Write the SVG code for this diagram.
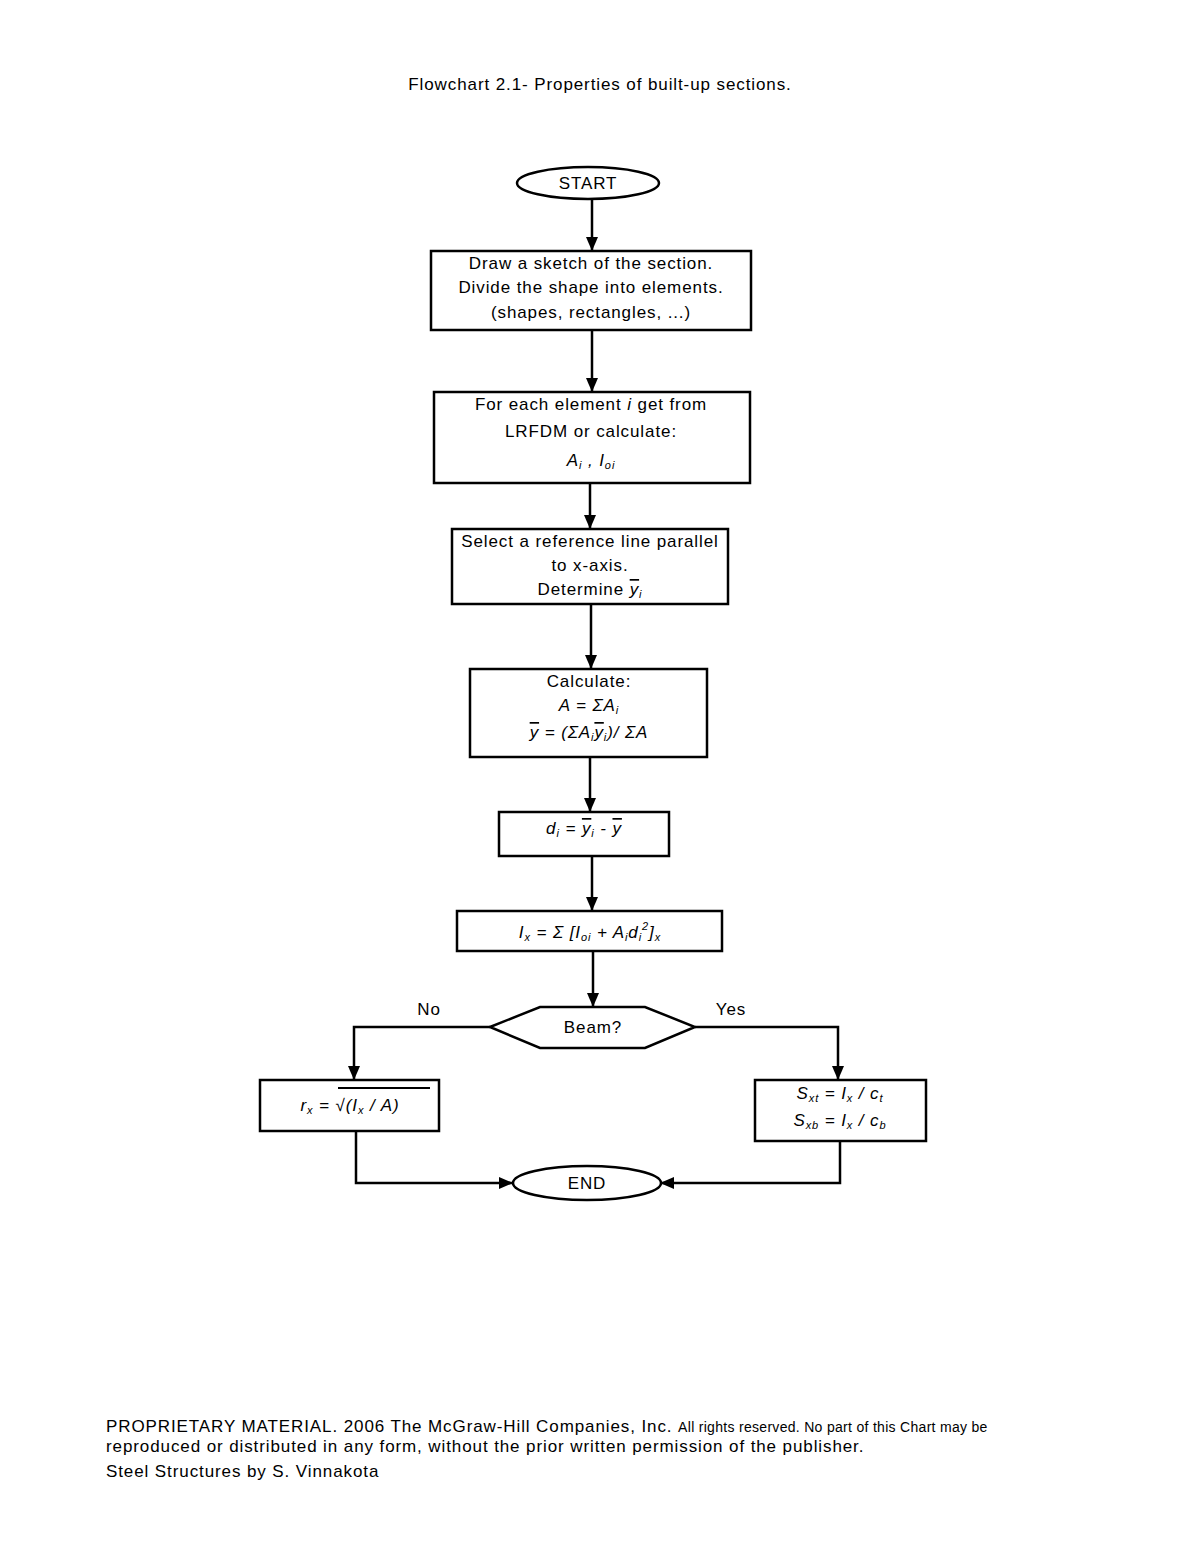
<svg xmlns="http://www.w3.org/2000/svg" width="1200" height="1553" viewBox="0 0 1200 1553">
<style>
text{font-family:"Liberation Sans",Arial,sans-serif;font-size:17px;letter-spacing:0.9px;fill:#000}
.b{fill:#fff;stroke:#000;stroke-width:2.5}
.c{fill:none;stroke:#000;stroke-width:2.5}
.m{text-anchor:middle}
.i{font-style:italic}
.s{font-size:11px}
.o{text-decoration:overline}
</style>
<defs><marker id="a" markerWidth="14" markerHeight="14" refX="13" refY="7" orient="auto" markerUnits="userSpaceOnUse"><path d="M0,1 L14,7 L0,13 Z"/></marker></defs>
<rect width="1200" height="1553" fill="#fff"/>
<text x="600" y="90" class="m">Flowchart 2.1- Properties of built-up sections.</text>
<g id="connectors">
<path class="c" d="M592,200V250" marker-end="url(#a)"/>
<path class="c" d="M592,330V391" marker-end="url(#a)"/>
<path class="c" d="M590,483V528" marker-end="url(#a)"/>
<path class="c" d="M591,604V668" marker-end="url(#a)"/>
<path class="c" d="M590,757V811" marker-end="url(#a)"/>
<path class="c" d="M592,856V910" marker-end="url(#a)"/>
<path class="c" d="M593,951V1006" marker-end="url(#a)"/>
<path class="c" d="M490,1027H354V1079" marker-end="url(#a)"/>
<path class="c" d="M695,1027H838V1079" marker-end="url(#a)"/>
<path class="c" d="M356,1131V1183H512" marker-end="url(#a)"/>
<path class="c" d="M840,1141V1183H661" marker-end="url(#a)"/>
</g>
<g id="start"><ellipse class="b" cx="588" cy="183" rx="71" ry="16"/><text x="588" y="189" class="m">START</text></g>
<g id="sketch"><rect class="b" x="431" y="251" width="320" height="79"/>
<text x="591" y="269" class="m">Draw a sketch of the section.</text>
<text x="591" y="293" class="m">Divide the shape into elements.</text>
<text x="591" y="318" class="m">(shapes, rectangles, ...)</text></g>
<g id="elements"><rect class="b" x="434" y="392" width="316" height="91"/>
<text x="591" y="410" class="m">For each element <tspan class="i">i</tspan> get from</text>
<text x="591" y="437" class="m">LRFDM or calculate:</text>
<text x="591" y="466" class="m i">A<tspan class="s" dy="3">i</tspan><tspan dy="-3"> , I</tspan><tspan class="s" dy="3">oi</tspan></text></g>
<g id="refline"><rect class="b" x="452" y="529" width="276" height="75"/>
<text x="590" y="547" class="m">Select a reference line parallel</text>
<text x="590" y="571" class="m">to x-axis.</text>
<text x="590" y="595" class="m">Determine <tspan class="i o">y</tspan><tspan class="s i" dy="3">i</tspan></text></g>
<g id="calc"><rect class="b" x="470" y="669" width="237" height="88"/>
<text x="589" y="687" class="m">Calculate:</text>
<text x="589" y="711" class="m i">A = ΣA<tspan class="s" dy="3">i</tspan></text>
<text x="589" y="738" class="m i"><tspan class="o">y</tspan> = (ΣA<tspan class="s" dy="3">i</tspan><tspan dy="-3" class="o">y</tspan><tspan class="s" dy="3">i</tspan><tspan dy="-3">)/ ΣA</tspan></text></g>
<g id="di"><rect class="b" x="499" y="812" width="170" height="44"/>
<text x="584" y="834" class="m i">d<tspan class="s" dy="3">i</tspan><tspan dy="-3"> = </tspan><tspan class="o">y</tspan><tspan class="s" dy="3">i</tspan><tspan dy="-3"> - </tspan><tspan class="o">y</tspan></text></g>
<g id="ix"><rect class="b" x="457" y="911" width="265" height="40"/>
<text x="590" y="938" class="m i">I<tspan class="s" dy="3">x</tspan><tspan dy="-3"> = Σ [I</tspan><tspan class="s" dy="3">oi</tspan><tspan dy="-3"> + A</tspan><tspan class="s" dy="3">i</tspan><tspan dy="-3">d</tspan><tspan class="s" dy="3">i</tspan><tspan class="s" dy="-11">2</tspan><tspan dy="8">]</tspan><tspan class="s" dy="3">x</tspan></text></g>
<g id="beam"><polygon class="b" points="490,1027 540,1007 645,1007 695,1027 645,1048 540,1048"/>
<text x="593" y="1033" class="m">Beam?</text>
<text x="429" y="1015" class="m">No</text><text x="731" y="1015" class="m">Yes</text></g>
<g id="rx"><rect class="b" x="260" y="1080" width="179" height="51"/>
<text x="350" y="1111" class="m i">r<tspan class="s" dy="3">x</tspan><tspan dy="-3"> = √(I</tspan><tspan class="s" dy="3">x</tspan><tspan dy="-3"> / A)</tspan></text>
<path d="M338,1088H430" stroke="#000" stroke-width="2"/></g>
<g id="sx"><rect class="b" x="755" y="1080" width="171" height="61"/>
<text x="840" y="1099" class="m i">S<tspan class="s" dy="3">xt</tspan><tspan dy="-3"> = I</tspan><tspan class="s" dy="3">x</tspan><tspan dy="-3"> / c</tspan><tspan class="s" dy="3">t</tspan></text>
<text x="840" y="1126" class="m i">S<tspan class="s" dy="3">xb</tspan><tspan dy="-3"> = I</tspan><tspan class="s" dy="3">x</tspan><tspan dy="-3"> / c</tspan><tspan class="s" dy="3">b</tspan></text></g>
<g id="end"><ellipse class="b" cx="587" cy="1183" rx="74" ry="17"/><text x="587" y="1189" class="m">END</text></g>
<text x="106" y="1432">PROPRIETARY MATERIAL. 2006 The McGraw-Hill Companies, Inc. <tspan font-size="14" letter-spacing="0.3">All rights reserved. No part of this Chart may be</tspan></text>
<text x="106" y="1452" font-size="14" letter-spacing="0.3">reproduced or distributed in any form, without the prior written permission of the publisher.</text>
<text x="106" y="1477">Steel Structures by S. Vinnakota</text>
</svg>
